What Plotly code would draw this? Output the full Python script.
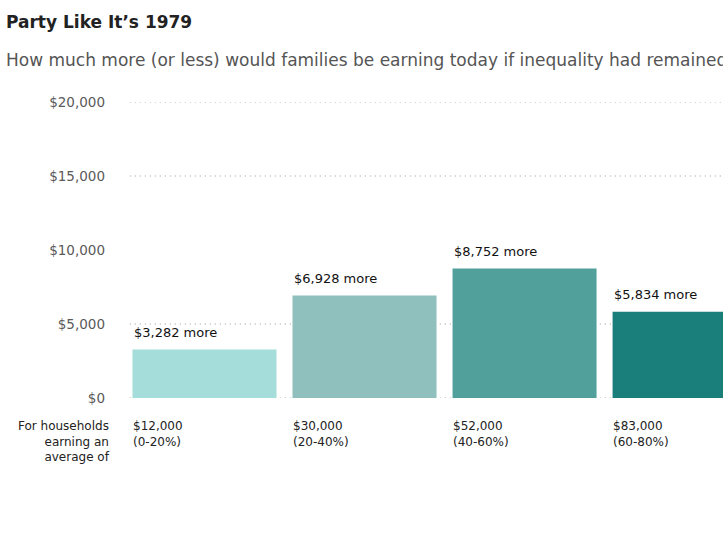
import plotly.graph_objects as go

categories = ["0-20%", "20-40%", "40-60%", "60-80%"]
incomes = ["$12,000", "$30,000", "$52,000", "$83,000"]
values = [3282, 6928, 8752, 5834]
colors = ["#a4ddd9", "#8fc0bd", "#52a09c", "#1a7e7a"]
tick_vals = [0, 5000, 10000, 15000, 20000]
tick_text = ["$0", "$5,000", "$10,000", "$15,000", "$20,000"]
grid_vals = [0, 5000, 15000, 20000]
title = "Party Like It’s 1979"
subtitle = "How much more (or less) would families be earning today if inequality had remained at 1979 levels?"

FONT = "DejaVu Sans"
W, H = 723, 542
ML, MR, MT, MB = 128, 0, 102, 144
PW, PH = W - ML - MR, H - MT - MB


def px_x(x):
    return (x - ML) / PW


def px_y(y):
    return (H - MB - y) / PH


fig = go.Figure()
fig.add_trace(go.Bar(
    x=categories, y=values, marker=dict(color=colors, line=dict(width=0)),
    width=0.9, hoverinfo="skip",
))

for c, v in zip(categories, values):
    fig.add_annotation(
        x=c, y=v, xref="x", yref="y", text=f"${v:,} more", showarrow=False,
        xanchor="left", yanchor="middle", xshift=-73, yshift=17,
        font=dict(family=FONT, size=13, color="#111111"),
    )

for c, inc in zip(categories, incomes):
    fig.add_annotation(
        x=c, y=0, xref="x", yref="paper", text=f"{inc}<br>({c})", showarrow=False,
        xanchor="left", yanchor="top", align="left", xshift=-74, yshift=-19,
        font=dict(family=FONT, size=12, color="#222222"),
    )

fig.add_annotation(
    x=0, y=0, xref="paper", yref="paper", text="For households<br>earning an<br>average of",
    showarrow=False, xanchor="right", yanchor="top", align="right", xshift=-16, yshift=-19,
    font=dict(family=FONT, size=12, color="#222222"),
)

for g in grid_vals:
    fig.add_shape(
        type="line", xref="paper", yref="y", x0=0.003, x1=1, y0=g, y1=g,
        line=dict(color="#999999", width=1, dash="1px,4px"), layer="below",
    )

fig.add_annotation(
    x=px_x(4), y=px_y(22), xref="paper", yref="paper", text=f"<b>{title}</b>",
    showarrow=False, xanchor="left", yanchor="middle",
    font=dict(family=FONT, size=17, color="#222222"),
)

fig.add_annotation(
    x=px_x(4), y=px_y(60), xref="paper", yref="paper", text=subtitle,
    showarrow=False, xanchor="left", yanchor="middle",
    font=dict(family=FONT, size=17, color="#555555"),
)

fig.update_layout(
    width=W, height=H,
    margin=dict(l=ML, r=MR, t=MT, b=MB),
    paper_bgcolor="white", plot_bgcolor="white",
    showlegend=False,
    bargap=0.1,
    xaxis=dict(range=[-0.478, 3.24], showticklabels=False, showgrid=False, zeroline=False,
               showline=False, ticks="", fixedrange=True),
    yaxis=dict(range=[0, 20000], tickvals=tick_vals, ticktext=tick_text, showgrid=False,
               zeroline=False, showline=False, ticks="", ticklabelstandoff=22,
               tickfont=dict(family=FONT, size=13.5, color="#5a5a5a")),
)

fig.write_html("out.html")
